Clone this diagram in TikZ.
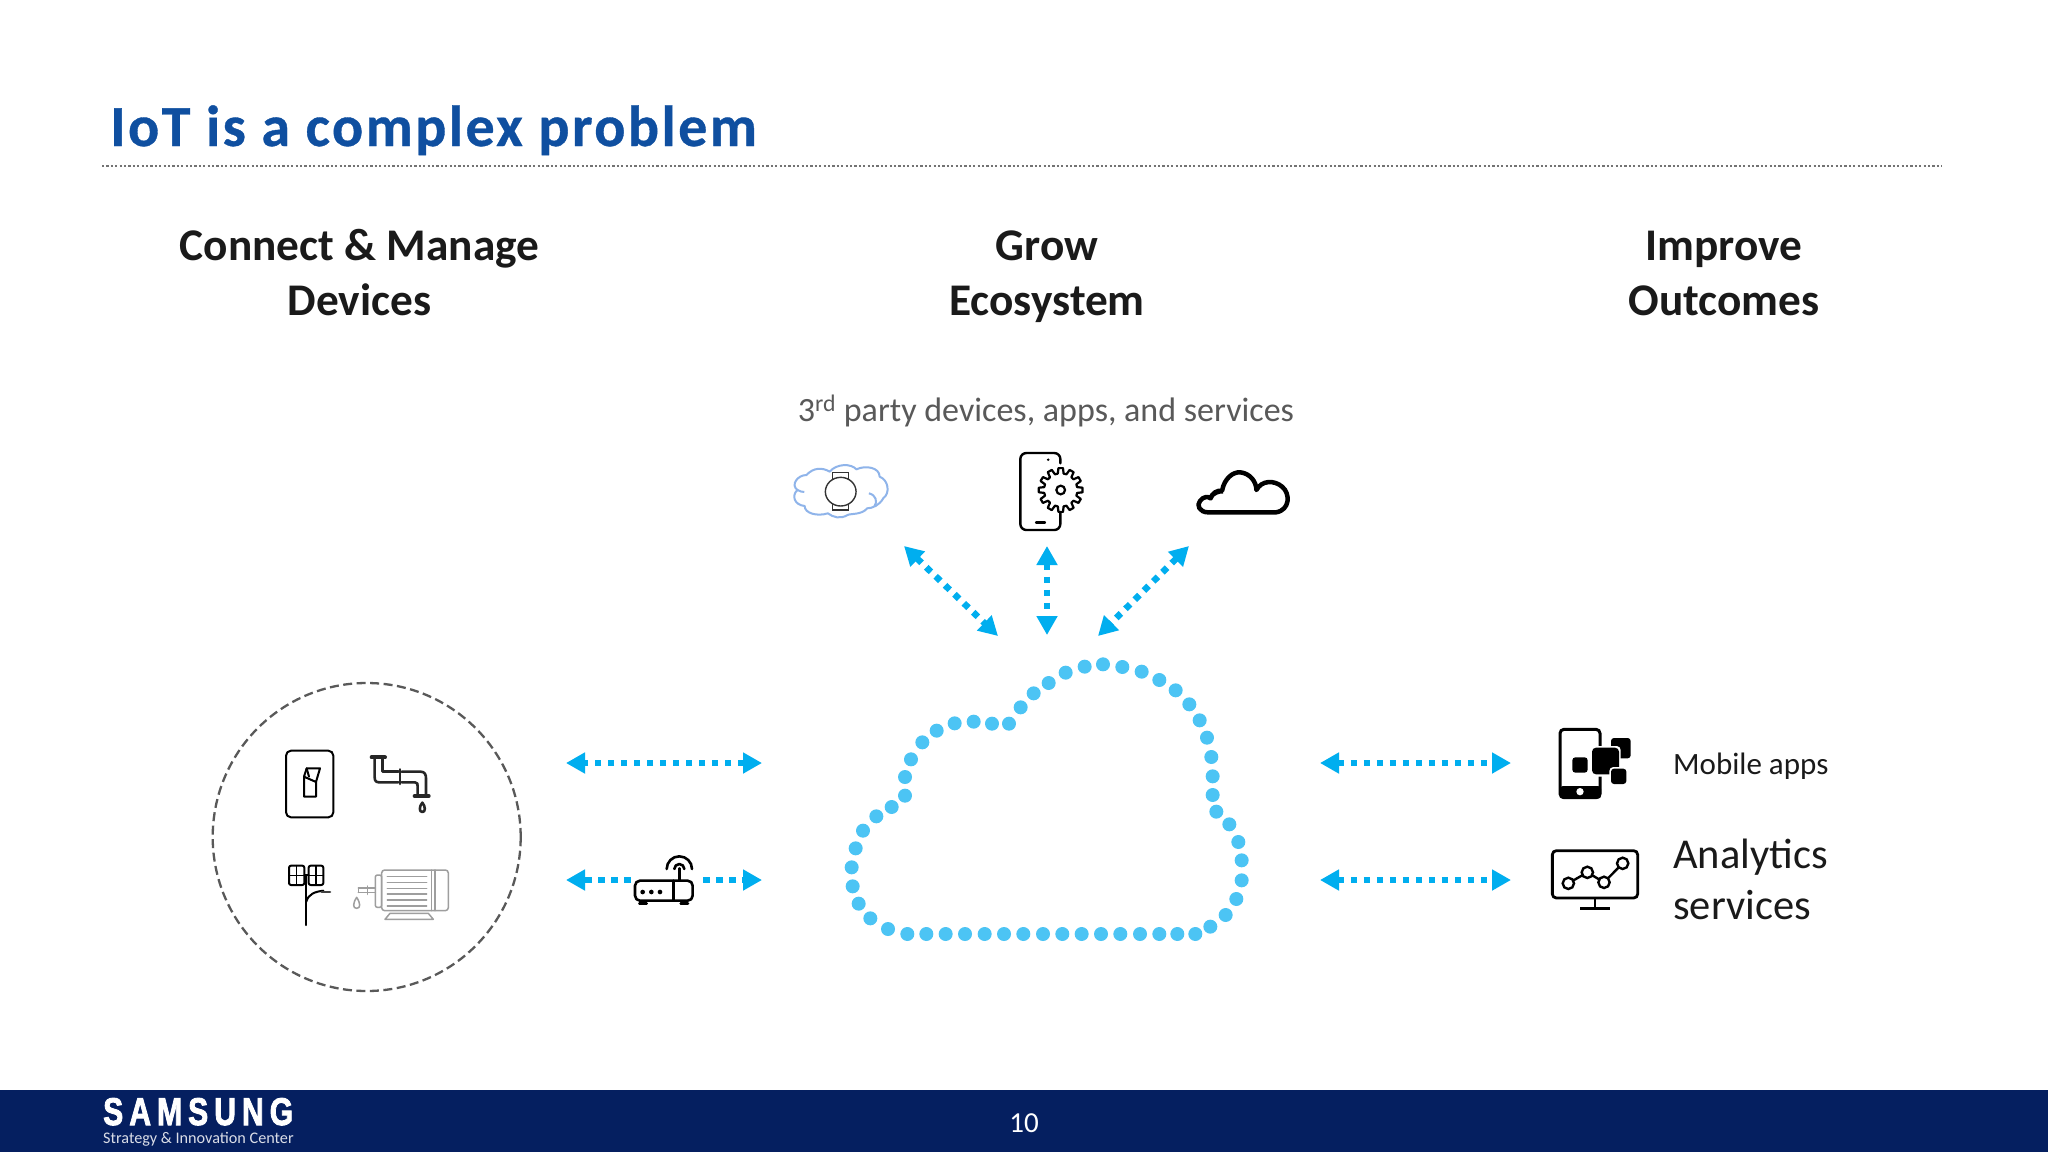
\documentclass[tikz,border=0pt]{standalone}
\usepackage{fontspec}
\setmainfont{Carlito}
\newfontfamily\titlefont{Carlito}[LetterSpace=4.2,BoldFeatures={FakeBold=0.6}]
\newfontfamily\logofont{Liberation Sans}[LetterSpace=20,BoldFeatures={FakeBold=2.5}]
\usetikzlibrary{arrows.meta}
\definecolor{titleblue}{HTML}{0F4FA0}
\definecolor{arrowblue}{HTML}{00AEEF}
\definecolor{dotblue}{HTML}{4CC4F4}
\definecolor{barblue}{HTML}{051F60}
\definecolor{headink}{HTML}{1A1A1A}
\definecolor{softgrey}{HTML}{595959}
\definecolor{wcloud}{HTML}{8FB4EA}
\tikzset{
  flow/.style={line width=6.5pt,arrowblue,dash pattern=on 6.5pt off 6.5pt,
    {Triangle[length=19pt,width=20pt]}-{Triangle[length=19pt,width=20pt]}},
  flowone/.style={line width=6.5pt,arrowblue,dash pattern=on 6.5pt off 6.5pt,
    -{Triangle[length=19pt,width=20pt]}},
  heading/.style={anchor=base,font=\fontsize{45.3}{55}\selectfont\bfseries,text=headink,inner sep=0},
  icon/.style={draw=black,line width=2pt,line join=round,line cap=round},
  thick icon/.style={draw=black!85,line width=2.6pt,line join=round,line cap=round},
  pale icon/.style={draw=black!38,line width=1.5pt,line join=round,line cap=round},
  dotb/.style={circle,fill=dotblue,inner sep=0,minimum size=14pt},
}
\begin{document}
\begin{tikzpicture}[x=1pt,y=-1pt]
\useasboundingbox (0,0) rectangle (2048,1152);
\fill[white] (0,0) rectangle (2048,1152);
% title
\node[anchor=base west,inner sep=0,text=titleblue] (title) at (110,146) {\fontsize{58}{60}\selectfont\titlefont\bfseries IoT is a complex problem};
\coordinate (ruleL) at (102,166);
\coordinate (ruleR) at (1942,166);
\draw[line width=2.2pt,black!55,dash pattern=on 2.2pt off 2.2pt] (ruleL) -- (ruleR);
% headings
\node[heading] (h1a) at (359.5,260) {Connect \& Manage};
\node[heading] (h1b) at (359.5,315) {Devices};
\node[heading] (h2a) at (1047,260) {Grow};
\node[heading] (h2b) at (1047,315) {Ecosystem};
\node[heading] (h3a) at (1724,260) {Improve};
\node[heading] (h3b) at (1724,315) {Outcomes};
\node[anchor=base,inner sep=0,text=softgrey] (third) at (1046,421) {\fontsize{34}{40}\selectfont 3\textsuperscript{rd} party devices, apps, and services};
% device circle
\node[circle,draw=softgrey,line width=2.3pt,dash pattern=on 9pt off 4.5pt,minimum size=308pt,inner sep=0] (devices) at (366.7,837) {};
% switch
\begin{scope}[shift={(180,660)},scale=1/3]
\draw[icon,rounded corners=5pt] (318,272) rectangle (460,472);
\draw[icon] (372,350) -- (372,410) -- (408,410) -- (408,366) -- (420,325) -- (380,325) -- (372,350) -- (408,366);
\draw[icon] (380,325) -- (387,350);
% tap
\draw[thick icon,line width=4pt] (575,292) -- (615,292);
\draw[thick icon] (584,295) -- (584,352) .. controls (584,365) and (590,367) .. (600,367) -- (655,367);
\draw[thick icon] (607,295) -- (607,335) -- (655,335);
\draw[thick icon] (660,328) -- (660,372);
\draw[thick icon] (665,335) -- (722,335) .. controls (735,335) and (738,345) .. (738,355) -- (738,402);
\draw[thick icon] (665,367) -- (705,367) .. controls (713,367) and (713,372) .. (713,380) -- (713,402);
\draw[thick icon,line width=4pt] (704,408) -- (746,408);
\draw[thick icon] (727,428) .. controls (718,438) and (716,456) .. (727,456) .. controls (738,456) and (736,438) .. (727,428) -- cycle;
% lamp
\draw[icon,rounded corners=2pt] (327,617) rectangle (373,675);
\draw[icon,rounded corners=2pt] (386,617) rectangle (430,675);
\draw[icon,line width=1.5pt] (350,617) -- (350,675) (327,646) -- (373,646) (408,617) -- (408,675) (386,646) -- (430,646);
\draw[icon] (373,646) -- (386,646);
\draw[icon] (379,646) -- (379,795);
\draw[icon] (379,725) .. controls (385,702) and (405,695) .. (430,692);
\draw[icon,line width=2.6pt,black!75] (425,696) -- (450,696);
% pump
\draw[pale icon,rounded corners=3pt] (605,630) rectangle (805,752);
\draw[pale icon] (755,630) -- (755,752) (765,630) -- (765,752);
\draw[pale icon,rounded corners=2pt] (586,645) rectangle (605,742);
\draw[pale icon] (622,650) -- (740,650) (622,668) -- (740,668) (622,685) -- (740,685) (622,702) -- (740,702) (622,720) -- (740,720) (622,738) -- (740,738);
\draw[pale icon] (630,760) -- (745,760) -- (760,778) -- (615,778) -- cycle;
\draw[pale icon] (535,684) -- (586,684) (535,697) -- (586,697) (535,684) -- (535,697) (562,678) -- (562,703);
\draw[pale icon] (530,712) .. controls (518,730) and (518,745) .. (530,745) .. controls (542,745) and (542,730) .. (530,712) -- cycle;
\end{scope}
% router
\node[minimum width=60pt,minimum height=50pt,inner sep=0] (router) at (664,880) {};
\begin{scope}[shift={(560,730)},scale=1/3]
\draw[thick icon,draw=black,rounded corners=5pt] (225,452) rectangle (398,512);
\draw[thick icon,draw=black] (340,452) -- (340,512);
\draw[thick icon,draw=black] (358,452) -- (358,415);
\draw[thick icon,draw=black] (343,417) arc (180:360:15);
\draw[thick icon,draw=black] (320,417) arc (180:360:38);
\fill (248,486) circle (7) (274,486) circle (7) (300,486) circle (7);
\draw[thick icon,draw=black] (238,520) -- (260,520) (362,520) -- (384,520);
\end{scope}
\coordinate (a1L) at (566,763); \coordinate (a1R) at (762,763);
\coordinate (a2L) at (566,880); \coordinate (a2R) at (762,880);
\draw[flow] (a1R) -- (a1L);
\draw[flowone] ([xshift=-3pt]router.west) -- (a2L);
\draw[flowone] ([xshift=9pt]router.east) -- (a2R);
% cloud of dots
\begin{scope}[shift={(830,640)},scale=1/3]
\foreach \i/\p in {1/{819,73},2/{877,81},3/{935,95},4/{988,120},5/{1037,151},6/{1078,193},7/{1109,241},8/{1131,293},9/{1144,351},10/{1148,409},11/{1148,465},12/{1159,515},13/{1198,553},14/{1225,606},15/{1235,661},16/{1235,721},17/{1219,777},18/{1187,825},19/{1141,860},20/{1096,882},21/{1042,882},22/{988,882},23/{930,882},24/{871,882},25/{813,882},26/{755,882},27/{697,882},28/{639,882},29/{580,882},30/{522,882},31/{464,882},32/{405,882},33/{347,882},34/{289,882},35/{232,882},36/{174,867},37/{121,835},38/{86,791},39/{68,739},40/{65,682},41/{77,625},42/{99,572},43/{139,529},44/{185,501},45/{225,467},46/{225,411},47/{243,358},48/{277,307},49/{320,272},50/{374,250},51/{431,245},52/{486,251},53/{537,251},54/{572,202},55/{611,160},56/{656,129},57/{707,98},58/{764,80}}
  \node[dotb] (d\i) at (\p) {};
\end{scope}
% top icons (crop coordinates: x at 2.8 per pixel, y at 3 per pixel)
\begin{scope}[shift={(760,430)},xscale=1/2.8,yscale=1/3]
% watch cloud
\draw[draw=wcloud,line width=2pt,line join=round]
 (130,135) .. controls (150,112) and (175,112) .. (195,125)
 .. controls (215,100) and (255,100) .. (270,118)
 .. controls (295,105) and (335,112) .. (335,140)
 .. controls (360,150) and (365,190) .. (345,205)
 .. controls (335,225) and (315,235) .. (300,235)
 .. controls (285,255) and (255,250) .. (245,255)
 .. controls (225,268) and (205,262) .. (190,250)
 .. controls (160,260) and (125,250) .. (125,228)
 .. controls (95,225) and (88,195) .. (105,180)
 .. controls (85,165) and (105,135) .. (130,135) -- cycle;
\draw[draw=wcloud,line width=2pt] (305,190) .. controls (325,195) and (330,215) .. (320,230);
\draw[draw=wcloud,line width=2pt] (105,180) .. controls (112,184) and (118,186) .. (124,186);
\draw[fill=white,draw=black!80,line width=1.2pt] (203,128) rectangle (248,240);
\draw[fill=white,draw=black!80,line width=1.4pt] (226,185) circle (43);
% phone
\draw[draw=black,line width=2.4pt,line join=round,line cap=round,rounded corners=6pt] (841,100) -- (841,69) -- (729,69) -- (729,300) -- (841,300) -- (841,245);
\fill (807,89) circle (4);
\draw[draw=black,line width=2.4pt,line cap=round] (773,278) -- (798,278);
\begin{scope}[shift={(842,180)},xscale=2.8/3]
\draw[fill=white,draw=black,line width=2.2pt,line join=round]
 (-10:50) \foreach \k in {0,30,...,330}{ -- ({\k-10}:50) -- ({\k-6}:66) -- ({\k+6}:66) -- ({\k+10}:50) } -- cycle;
\draw[draw=black,line width=2.2pt] (0,0) circle (13);
\end{scope}
% black cloud
\draw[draw=black,line width=4.5pt,line join=round,line cap=round]
 (1255,247) .. controls (1230,247) and (1222,225) .. (1232,213)
 .. controls (1240,200) and (1255,198) .. (1262,205)
 .. controls (1265,190) and (1280,180) .. (1294,182)
 .. controls (1300,145) and (1325,125) .. (1345,127)
 .. controls (1372,130) and (1390,155) .. (1390,180)
 .. controls (1405,150) and (1440,150) .. (1462,170)
 .. controls (1485,190) and (1485,240) .. (1445,247) -- cycle;
\draw[draw=black,line width=2pt] (1262,205) .. controls (1270,195) and (1285,185) .. (1297,188);
\end{scope}
\coordinate (t1a) at (904,546); \coordinate (t1b) at (998,636);
\coordinate (t2a) at (1047,546); \coordinate (t2b) at (1047,635);
\coordinate (t3a) at (1189,546); \coordinate (t3b) at (1098,636);
\draw[flow] (t1a) -- (t1b);
\draw[flow] (t2a) -- (t2b);
\draw[flow] (t3a) -- (t3b);
% right arrows
\coordinate (r1L) at (1320,763); \coordinate (r1R) at (1511,763);
\coordinate (r2L) at (1320,880); \coordinate (r2R) at (1511,880);
\draw[flow] (r1L) -- (r1R);
\draw[flow] (r2L) -- (r2R);
% mobile apps icon
\begin{scope}[shift={(1520,710)},scale=1/3]
\draw[draw=black,line width=3pt,rounded corners=4pt] (240,110) -- (240,58) -- (120,58) -- (120,263) -- (240,263) -- (240,200);
\fill[rounded corners=3pt] (120,228) rectangle (243,266);
\fill[white] (180,245) circle (11);
\fill[rounded corners=3pt] (157,142) rectangle (203,188);
\fill[rounded corners=3pt] (273,84) rectangle (332,145);
\fill[white,rounded corners=4pt] (211,108) rectangle (302,198);
\fill[rounded corners=4pt] (216,113) rectangle (297,193);
\fill[white,rounded corners=4pt] (268,171) rectangle (324,227);
\fill[rounded corners=3pt] (273,176) rectangle (319,222);
% analytics
\draw[draw=black,line width=2.8pt,rounded corners=4pt] (97,422) rectangle (353,564);
\draw[draw=black,line width=2.8pt] (225,564) -- (225,595);
\draw[draw=black,line width=2.8pt] (180,595) -- (270,595);
\draw[draw=black,line width=2.4pt] (145,520) -- (202,487) -- (252,517) -- (308,460);
\foreach \q in {{145,520},{202,487},{252,517},{308,460}}
  \draw[fill=white,draw=black,line width=2.4pt] (\q) circle (17);
\end{scope}
\node[anchor=base west,inner sep=0,text=headink] (mob) at (1673,774) {\fontsize{31}{36}\selectfont Mobile apps};
\node[anchor=base west,inner sep=0,text=headink] (ana1) at (1673,868.5) {\fontsize{42.5}{50}\selectfont Analytics};
\node[anchor=base west,inner sep=0,text=headink] (ana2) at (1673,919.5) {\fontsize{42.5}{50}\selectfont services};
% footer
\fill[barblue] (0,1090) rectangle (2048,1152);
\node[anchor=base,inner sep=0,text=white] (page) at (1024,1132) {\fontsize{29}{36}\selectfont 10};
\node[anchor=base west,inner sep=0,text=white] (logo) at (103,1125) {\resizebox{190pt}{27pt}{\logofont\bfseries SAMSUNG}};
\node[anchor=base west,inner sep=0,text=white!85!barblue] (sub) at (103,1143) {\fontsize{16.2}{20}\selectfont Strategy \& Innovation Center};
\end{tikzpicture}
\end{document}
